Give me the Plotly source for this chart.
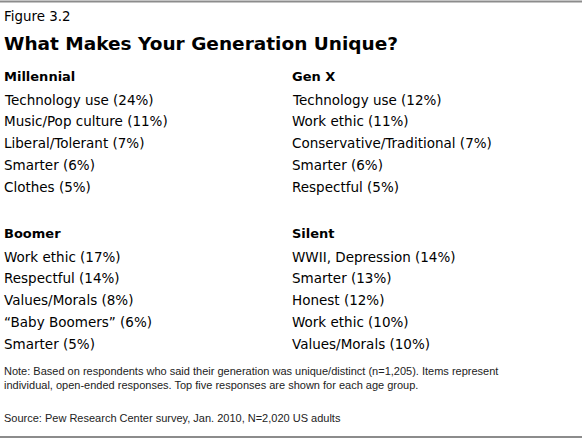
import plotly.graph_objects as go

W, H = 584, 439

figure_label = "Figure 3.2"
title = "What Makes Your Generation Unique?"
groups = ["Millennial", "Gen X", "Boomer", "Silent"]
millennial_items = ["Technology use", "Music/Pop culture", "Liberal/Tolerant", "Smarter", "Clothes"]
millennial_pct = [24, 11, 7, 6, 5]
genx_items = ["Technology use", "Work ethic", "Conservative/Traditional", "Smarter", "Respectful"]
genx_pct = [12, 11, 7, 6, 5]
boomer_items = ["Work ethic", "Respectful", "Values/Morals", "\u201cBaby Boomers\u201d", "Smarter"]
boomer_pct = [17, 14, 8, 6, 5]
silent_items = ["WWII, Depression", "Smarter", "Honest", "Work ethic", "Values/Morals"]
silent_pct = [14, 13, 12, 10, 10]
note = ("Note: Based on respondents who said their generation was unique/distinct (n=1,205). Items represent<br>"
        "individual, open-ended responses. Top five responses are shown for each age group.")
source = "Source: Pew Research Center survey, Jan. 2010, N=2,020 US adults"

VFONT = "Verdana, DejaVu Sans, sans-serif"
AFONT = "Arial, Liberation Sans, sans-serif"

fig = go.Figure()
ann = []

def add_text(px, py, text, size, bold=False, font=VFONT, color="#000000"):
    if bold:
        text = "<b>" + text + "</b>"
    ann.append(dict(x=px / W, y=1 - py / H, xref="paper", yref="paper",
                    xanchor="left", yanchor="middle", text=text, showarrow=False,
                    align="left", borderpad=0,
                    font=dict(family=font, size=size, color=color)))

add_text(3, 17, figure_label, 13.4)
add_text(3, 43, title, 18.5, bold=True)

blocks = [
    (groups[0], millennial_items, millennial_pct, 3, 76),
    (groups[1], genx_items, genx_pct, 291, 76),
    (groups[2], boomer_items, boomer_pct, 3, 233),
    (groups[3], silent_items, silent_pct, 291, 233),
]
for name, items, pcts, x0, y0 in blocks:
    add_text(x0, y0, name, 13, bold=True)
    for i, (it, p) in enumerate(zip(items, pcts)):
        add_text(x0, y0 + 23.6 + i * 21.8, f"{it} ({p}%)", 13.5)

add_text(3, 378, note, 11, font=AFONT, color="#222222")
add_text(3, 418, source, 11, font=AFONT, color="#222222")

for ytop in (0.5, 436):
    fig.add_shape(type="rect", xref="paper", yref="paper", x0=0, x1=582 / W,
                  y0=1 - ytop / H, y1=1 - (ytop + 2) / H,
                  fillcolor="#8c8c8c", line=dict(width=0), layer="above")

fig.update_layout(width=W, height=H, margin=dict(l=0, r=0, t=0, b=0),
                  paper_bgcolor="white", plot_bgcolor="white",
                  xaxis=dict(visible=False, showline=False, zeroline=False, showgrid=False),
                  yaxis=dict(visible=False, showline=False, zeroline=False, showgrid=False),
                  annotations=ann, showlegend=False)
fig.write_html("out.html", config={"displayModeBar": False, "staticPlot": True},
               post_script="document.body.style.margin='0';document.body.style.padding='0';"
                           "document.body.style.overflow='hidden';"
                           "document.documentElement.style.overflow='hidden';"
                           "document.body.style.background='white';")
